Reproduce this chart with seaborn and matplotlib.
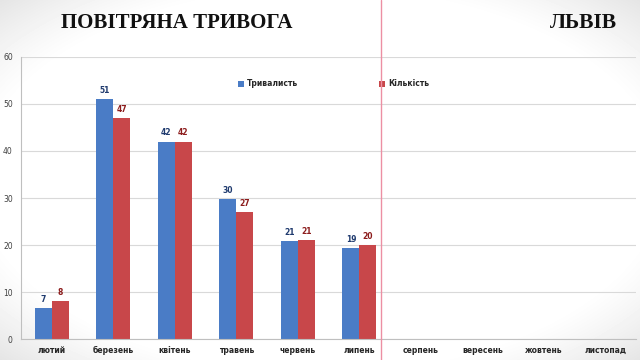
import numpy as np
import pandas as pd
import matplotlib
matplotlib.use("Agg")
import matplotlib.pyplot as plt
import seaborn as sns

months = ["лютий", "березень", "квітень", "травень", "червень", "липень",
          "серпень", "вересень", "жовтень", "листопад"]
duration = [6.6, 51, 42, 29.7, 20.8, 19.4, np.nan, np.nan, np.nan, np.nan]
count = [8, 47, 42, 27, 21, 20, np.nan, np.nan, np.nan, np.nan]
series = ["Тривалисть", "Кількість"]

df = pd.DataFrame({"month": months * 2,
                   "value": duration + count,
                   "series": [series[0]] * len(months) + [series[1]] * len(months)})

sns.set_style("white")
plt.rcParams["font.family"] = ["DejaVu Sans"]

fig = plt.figure(figsize=(6.4, 3.6), dpi=100)
fig.patch.set_facecolor("white")

# slide background with grey corners
bg = fig.add_axes([0, 0, 1, 1], zorder=-1)
yy, xx = np.mgrid[0:360, 0:640]
dx = (xx - 320) / 320
dy = (yy - 180) / 180
r = np.sqrt(dx ** 2 + dy ** 2)
shade = 1 - 0.35 * np.clip(r - 1.05, 0, 1) ** 1.2
bg.imshow(shade, cmap="gray", vmin=0, vmax=1, aspect="auto")
bg.axis("off")

ax = fig.add_axes([0.033, 0.058, 0.961, 0.784])
ax.patch.set_alpha(0)

palette = {series[0]: "#4a7cc6", series[1]: "#c8474a"}
sns.barplot(data=df, x="month", y="value", hue="series", palette=palette,
            width=0.55, saturation=1, linewidth=0, edgecolor="none", ax=ax, legend=True)

label_colors = ["#1f3a6e", "#8c1c1c"]
for cont, col in zip(ax.containers, label_colors):
    ax.bar_label(cont, fmt="%.0f", padding=3, fontsize=5.5, fontweight="bold", color=col)

ax.set_ylim(0, 60)
ax.set_yticks(range(0, 61, 10))
ax.set_xlim(-0.5, len(months) - 0.5)
ax.yaxis.grid(True, color="#d9d9d9", lw=0.8)
ax.set_axisbelow(True)
ax.set_xlabel("")
ax.set_ylabel("")
for s in ["top", "right"]:
    ax.spines[s].set_visible(False)
for s in ["left", "bottom"]:
    ax.spines[s].set_color("#bfbfbf")
    ax.spines[s].set_linewidth(0.8)
ax.tick_params(axis="y", labelsize=5.5, labelcolor="#404040", length=0, pad=6)
ax.tick_params(axis="x", labelsize=5.5, length=0, pad=10)
for t in ax.get_xticklabels():
    t.set_fontweight("bold")
    t.set_verticalalignment("baseline")

ax.legend(loc="center", bbox_to_anchor=(0.508, 0.904), ncol=2, frameon=False,
          handlelength=0.8, handleheight=0.8, handletextpad=0.4, columnspacing=10.5,
          prop={"size": 5.5, "weight": "bold"})

fig.text(0.276, 0.935, "ПОВІТРЯНА ТРИВОГА", ha="center", va="center",
         fontsize=15, fontweight="bold", family="Liberation Serif", color="#111111")
fig.text(0.912, 0.935, "ЛЬВІВ", ha="center", va="center",
         fontsize=15.5, fontweight="bold", family="Liberation Serif", color="#111111")

fig.add_artist(plt.Line2D([0.595, 0.595], [0, 1], transform=fig.transFigure,
                          color="#ec8fa3", lw=1))

fig.savefig("out.png", dpi=100)
